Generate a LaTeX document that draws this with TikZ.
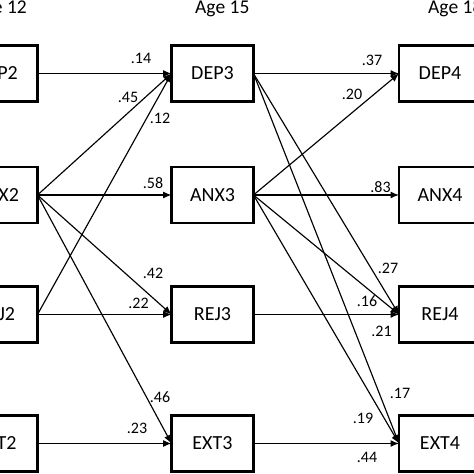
\documentclass[tikz,border=0pt]{standalone}
\usepackage{fontspec}
\setmainfont{Carlito}
\usetikzlibrary{arrows.meta}
\begin{document}
\begin{tikzpicture}[x=1pt,y=-1pt,
  box/.style={draw, line width=2.3pt, minimum width=82pt, minimum height=56pt, inner sep=0pt, outer sep=0pt, font=\fontsize{20}{24}\selectfont},
  conn/.style={line width=1.15pt, -{Latex[length=8.5pt,width=7pt]}},
  lab/.style={font=\fontsize{16}{19}\selectfont, inner sep=0pt},
  age/.style={font=\fontsize{19.5}{24}\selectfont, inner sep=0pt}]
\useasboundingbox (0,0) rectangle (474,474);
\clip (0,0) rectangle (474,474);
% age labels
\node[age, anchor=base east] (a12) at (27,13.5) {Age 12};
\node[age, anchor=base west] (a15) at (195,13.5) {Age 15};
\node[age, anchor=base west] (a18) at (428,13.5) {Age 18};
% boxes
\node[box] (dep2) at (-3.5,73.5) {DEP2};
\node[box] (anx2) at (-3.5,195) {ANX2};
\node[box] (rej2) at (-3.5,314.5) {REJ2};
\node[box] (ext2) at (-3.5,443.5) {EXT2};
\node[box] (dep3) at (212.5,73.5) {DEP3};
\node[box] (anx3) at (212.5,195) {ANX3};
\node[box] (rej3) at (212.5,314.5) {REJ3};
\node[box] (ext3) at (212.5,443.5) {EXT3};
\node[box] (dep4) at (440,73.5) {DEP4};
\node[box] (anx4) at (440,195) {ANX4};
\node[box] (rej4) at (440,314.5) {REJ4};
\node[box] (ext4) at (440,443.5) {EXT4};
% connectors age 12 -> 15
\draw[conn] (dep2.east) -- (dep3.west);
\draw[conn] (anx2.east) -- (dep3.west);
\draw[conn] (rej2.east) -- (dep3.west);
\draw[conn] (anx2.east) -- (anx3.west);
\draw[conn] (anx2.east) -- (rej3.west);
\draw[conn] (rej2.east) -- (rej3.west);
\draw[conn] (anx2.east) -- (ext3.west);
\draw[conn] (ext2.east) -- (ext3.west);
% connectors age 15 -> 18
\draw[conn] (dep3.east) -- (dep4.west);
\draw[conn] (anx3.east) -- (dep4.west);
\draw[conn] (anx3.east) -- (anx4.west);
\draw[conn] (dep3.east) -- (rej4.west);
\draw[conn] (anx3.east) -- (rej4.west);
\draw[conn] (rej3.east) -- (rej4.west);
\draw[conn] (dep3.east) -- (ext4.west);
\draw[conn] (anx3.east) -- (ext4.west);
\draw[conn] (ext3.east) -- (ext4.west);
% coefficient labels
\node[lab] (l1) at (141,58.5) {.14};
\node[lab] (l2) at (128,97) {.45};
\node[lab] (l3) at (160,118.5) {.12};
\node[lab] (l4) at (153,183) {.58};
\node[lab] (l5) at (153,273.5) {.42};
\node[lab] (l6) at (138.5,303) {.22};
\node[lab] (l7) at (160,397.5) {.46};
\node[lab] (l8) at (137,428) {.23};
\node[lab] (l9) at (372,60) {.37};
\node[lab] (l10) at (352,94) {.20};
\node[lab] (l11) at (380.5,187) {.83};
\node[lab] (l12) at (388,268.5) {.27};
\node[lab] (l13) at (367,301) {.16};
\node[lab] (l14) at (381.5,331) {.21};
\node[lab] (l15) at (400,393) {.17};
\node[lab] (l16) at (363,418.5) {.19};
\node[lab] (l17) at (367,457) {.44};
\end{tikzpicture}
\end{document}
